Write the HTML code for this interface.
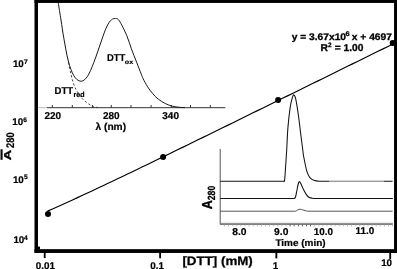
<!DOCTYPE html>
<html><head><meta charset="utf-8"><title>DTT calibration</title>
<style>
html,body{margin:0;padding:0;background:#fff;}
svg{display:block;}
text{font-family:"Liberation Sans",sans-serif;font-weight:bold;fill:#000;text-rendering:geometricPrecision;}
</style></head><body>
<svg width="397" height="269" viewBox="0 0 397 269">
<rect width="397" height="269" fill="#fff"/>
<g stroke="#333" stroke-width="1" fill="none">
<line x1="38" y1="107.7" x2="47" y2="107.7" stroke="#bbb"/><line x1="47" y1="107.7" x2="225.4" y2="107.7"/>
<line x1="52.3" y1="105" x2="52.3" y2="107.7"/><line x1="72.3" y1="105" x2="72.3" y2="107.7"/><line x1="92.4" y1="105" x2="92.4" y2="107.7"/><line x1="111.3" y1="105" x2="111.3" y2="107.7"/><line x1="131.0" y1="105" x2="131.0" y2="107.7"/><line x1="151.1" y1="105" x2="151.1" y2="107.7"/><line x1="171.3" y1="105" x2="171.3" y2="107.7"/><line x1="190.5" y1="105" x2="190.5" y2="107.7"/><line x1="210.3" y1="105" x2="210.3" y2="107.7"/>
</g>
<path d="M58.30,3.10 C58.75,5.92 60.07,14.10 61.00,20.00 C61.93,25.90 62.68,31.67 63.90,38.50 C65.12,45.33 66.65,54.80 68.30,61.00 C69.95,67.20 71.77,72.33 73.80,75.70 C75.83,79.07 78.27,81.02 80.50,81.20 C82.73,81.38 84.97,79.95 87.20,76.80 C89.43,73.65 91.48,68.43 93.90,62.30 C96.32,56.17 99.68,45.67 101.70,40.00 C103.72,34.33 104.55,31.50 106.00,28.30 C107.45,25.10 108.92,22.43 110.40,20.80 C111.88,19.17 113.42,18.50 114.90,18.50 C116.38,18.50 117.32,17.93 119.30,20.80 C121.28,23.67 124.78,31.03 126.80,35.70 C128.82,40.37 129.77,44.38 131.40,48.80 C133.03,53.22 134.95,57.97 136.60,62.20 C138.25,66.43 140.20,71.43 141.30,74.20 C142.40,76.97 142.15,76.70 143.20,78.80 C144.25,80.90 145.98,84.30 147.60,86.80 C149.22,89.30 151.13,91.75 152.90,93.80 C154.67,95.85 156.13,97.48 158.20,99.10 C160.27,100.72 162.95,102.32 165.30,103.50 C167.65,104.68 169.95,105.57 172.30,106.20 C174.65,106.83 177.28,107.07 179.40,107.30 C181.52,107.53 184.07,107.55 185.00,107.60" fill="none" stroke="#111" stroke-width="0.98"/>
<path d="M68.30,62.50 C68.78,64.58 70.32,71.42 71.20,75.00 C72.08,78.58 72.72,81.45 73.60,84.00 C74.48,86.55 75.52,88.47 76.50,90.30 C77.48,92.13 78.60,93.67 79.50,95.00 C80.40,96.33 80.82,97.13 81.90,98.30 C82.98,99.47 84.25,100.67 86.00,102.00 C87.75,103.33 90.40,105.38 92.40,106.30 C94.40,107.22 97.07,107.30 98.00,107.50" fill="none" stroke="#222" stroke-width="0.85" stroke-dasharray="2.2,2.1"/>
<g stroke="#555" stroke-width="1" fill="none">
<line x1="220.2" y1="149" x2="220.2" y2="224.5"/>
<line x1="220.2" y1="223.3" x2="392.8" y2="223.3" stroke="#999" stroke-width="0.9"/><line x1="220.2" y1="224.2" x2="392.8" y2="224.2" stroke="#444" stroke-width="1"/>
</g>
<g stroke-width="1"><line x1="224.5" y1="224.7" x2="224.5" y2="226.3" stroke="#bbb"/><line x1="228.6" y1="224.7" x2="228.6" y2="226.3" stroke="#bbb"/><line x1="232.7" y1="224.7" x2="232.7" y2="226.3" stroke="#bbb"/><line x1="236.8" y1="224.7" x2="236.8" y2="226.3" stroke="#bbb"/><line x1="240.9" y1="224.7" x2="240.9" y2="226.3" stroke="#bbb"/><line x1="245.0" y1="224.7" x2="245.0" y2="226.3" stroke="#bbb"/><line x1="249.1" y1="224.7" x2="249.1" y2="226.3" stroke="#bbb"/><line x1="253.2" y1="224.7" x2="253.2" y2="226.3" stroke="#bbb"/><line x1="257.3" y1="224.7" x2="257.3" y2="226.3" stroke="#bbb"/><line x1="261.4" y1="224.7" x2="261.4" y2="226.3" stroke="#bbb"/><line x1="265.5" y1="224.7" x2="265.5" y2="226.3" stroke="#bbb"/><line x1="269.6" y1="224.7" x2="269.6" y2="226.3" stroke="#bbb"/><line x1="273.7" y1="224.7" x2="273.7" y2="226.3" stroke="#bbb"/><line x1="277.8" y1="224.7" x2="277.8" y2="226.3" stroke="#bbb"/><line x1="281.9" y1="224.7" x2="281.9" y2="226.3" stroke="#bbb"/><line x1="286.0" y1="224.7" x2="286.0" y2="226.3" stroke="#bbb"/><line x1="290.1" y1="224.7" x2="290.1" y2="226.3" stroke="#555"/><line x1="294.2" y1="224.7" x2="294.2" y2="226.3" stroke="#555"/><line x1="298.3" y1="224.7" x2="298.3" y2="226.3" stroke="#555"/><line x1="302.4" y1="224.7" x2="302.4" y2="226.3" stroke="#555"/><line x1="306.5" y1="224.7" x2="306.5" y2="226.3" stroke="#555"/><line x1="310.6" y1="224.7" x2="310.6" y2="226.3" stroke="#555"/><line x1="314.7" y1="224.7" x2="314.7" y2="226.3" stroke="#bbb"/><line x1="318.8" y1="224.7" x2="318.8" y2="226.3" stroke="#bbb"/><line x1="322.9" y1="224.7" x2="322.9" y2="226.3" stroke="#bbb"/><line x1="327.0" y1="224.7" x2="327.0" y2="226.3" stroke="#bbb"/><line x1="331.1" y1="224.7" x2="331.1" y2="226.3" stroke="#bbb"/><line x1="335.2" y1="224.7" x2="335.2" y2="226.3" stroke="#bbb"/><line x1="339.3" y1="224.7" x2="339.3" y2="226.3" stroke="#bbb"/><line x1="343.4" y1="224.7" x2="343.4" y2="226.3" stroke="#bbb"/><line x1="347.5" y1="224.7" x2="347.5" y2="226.3" stroke="#bbb"/><line x1="351.6" y1="224.7" x2="351.6" y2="226.3" stroke="#bbb"/><line x1="355.7" y1="224.7" x2="355.7" y2="226.3" stroke="#bbb"/><line x1="359.8" y1="224.7" x2="359.8" y2="226.3" stroke="#bbb"/><line x1="363.9" y1="224.7" x2="363.9" y2="226.3" stroke="#bbb"/><line x1="368.0" y1="224.7" x2="368.0" y2="226.3" stroke="#bbb"/><line x1="372.1" y1="224.7" x2="372.1" y2="226.3" stroke="#bbb"/><line x1="376.2" y1="224.7" x2="376.2" y2="226.3" stroke="#bbb"/><line x1="380.3" y1="224.7" x2="380.3" y2="226.3" stroke="#bbb"/><line x1="384.4" y1="224.7" x2="384.4" y2="226.3" stroke="#bbb"/><line x1="388.5" y1="224.7" x2="388.5" y2="226.3" stroke="#bbb"/><line x1="392.6" y1="224.7" x2="392.6" y2="226.3" stroke="#bbb"/></g>
<path d="M220.20,181.30 L283.40,181.30 M283.40,181.30 C283.60,181.12 284.23,182.63 284.60,180.20 C284.97,177.77 285.25,171.73 285.60,166.70 C285.95,161.67 286.32,156.47 286.70,150.00 C287.08,143.53 287.33,134.93 287.90,127.90 C288.47,120.87 289.37,112.82 290.10,107.80 C290.83,102.78 291.67,99.95 292.30,97.80 C292.93,95.65 293.33,94.72 293.90,94.90 C294.47,95.08 294.97,95.63 295.70,98.90 C296.43,102.17 297.45,108.55 298.30,114.50 C299.15,120.45 300.05,128.68 300.80,134.60 C301.55,140.52 302.35,146.50 302.80,150.00 C303.25,153.50 302.83,152.07 303.50,155.60 C304.17,159.13 305.70,167.48 306.80,171.20 C307.90,174.92 308.80,176.33 310.10,177.90 C311.40,179.47 312.95,180.03 314.60,180.60 C316.25,181.17 319.10,181.18 320.00,181.30 L392.60,181.30" fill="none" stroke="#111" stroke-width="1.05"/><line x1="329" y1="181.3" x2="384" y2="181.3" stroke="#fff" stroke-opacity="0.45" stroke-width="2"/>
<path d="M220.20,198.50 L294.30,198.50 M294.30,198.50 C294.50,198.25 295.08,198.25 295.50,197.00 C295.92,195.75 296.35,193.17 296.80,191.00 C297.25,188.83 297.77,185.57 298.20,184.00 C298.63,182.43 298.97,181.68 299.40,181.60 C299.83,181.52 300.12,182.18 300.80,183.50 C301.48,184.82 302.32,187.33 303.50,189.50 C304.68,191.67 306.42,195.03 307.90,196.50 C309.38,197.97 311.05,197.97 312.40,198.30 C313.75,198.63 315.40,198.47 316.00,198.50 L392.80,198.50" fill="none" stroke="#111" stroke-width="1.1"/>
<path d="M220.20,211.20 L295.70,211.20 M295.70,211.20 C296.08,210.97 297.27,210.13 298.00,209.80 C298.73,209.47 299.27,209.17 300.10,209.20 C300.93,209.23 302.18,209.77 303.00,210.00 C303.82,210.23 304.18,210.40 305.00,210.60 C305.82,210.80 307.42,211.10 307.90,211.20 L392.60,211.20" fill="none" stroke="#444" stroke-width="0.9"/>
<path d="M47.50,211.11 L52.50,208.92 L57.50,206.70 L62.50,204.46 L67.50,202.20 L72.50,199.92 L77.50,197.63 L82.50,195.32 L87.50,193.00 L92.50,190.67 L97.50,188.32 L102.50,185.97 L107.50,183.60 L112.50,181.22 L117.50,178.84 L122.50,176.45 L127.50,174.05 L132.50,171.65 L137.50,169.24 L142.50,166.83 L147.50,164.41 L152.50,161.99 L157.50,159.56 L162.50,157.13 L167.50,154.70 L172.50,152.27 L177.50,149.83 L182.50,147.39 L187.50,144.95 L192.50,142.50 L197.50,140.06 L202.50,137.61 L207.50,135.16 L212.50,132.71 L217.50,130.26 L222.50,127.81 L227.50,125.36 L232.50,122.90 L237.50,120.45 L242.50,117.99 L247.50,115.54 L252.50,113.08 L257.50,110.62 L262.50,108.17 L267.50,105.71 L272.50,103.25 L277.50,100.79 L282.50,98.33 L287.50,95.87 L292.50,93.41 L297.50,90.95 L302.50,88.49 L307.50,86.03 L312.50,83.57 L317.50,81.11 L322.50,78.65 L327.50,76.19 L332.50,73.73 L337.50,71.27 L342.50,68.81 L347.50,66.35 L352.50,63.89 L357.50,61.42 L362.50,58.96 L367.50,56.50 L372.50,54.04 L377.50,51.58 L382.50,49.12 L387.50,46.66 L392.50,44.19 L393.00,43.95" fill="none" stroke="#000" stroke-width="1.15"/>
<g fill="#000">
<circle cx="48" cy="213.9" r="3"/>
<circle cx="163.1" cy="157" r="3"/>
<circle cx="278.1" cy="100.1" r="3"/>
<circle cx="392.7" cy="43" r="3"/>
</g>
<g fill="#000">
<rect x="34.5" y="0" width="3.5" height="252.8"/>
<rect x="34.5" y="0" width="362.5" height="2.95"/>
<rect x="394.05" y="0" width="2.95" height="252.8"/>
<rect x="34.5" y="249.15" width="362.5" height="3.8"/>
<rect x="38" y="246.6" width="2" height="3"/>
<rect x="43.8" y="252.5" width="1.8" height="5.6"/>
<rect x="159.2" y="252.5" width="1.8" height="5.8"/>
<rect x="275.4" y="252.5" width="1.9" height="5.9"/>
<rect x="389.3" y="252.5" width="1.8" height="6.5"/>
<rect x="0.5" y="149.3" width="2.1" height="10.5"/>
</g>
<text transform="translate(107.00,61.10) scale(0.940,1)" font-size="10.00" stroke="#000" stroke-width="0.20">DTT</text>
<text transform="translate(124.80,63.60) scale(1.150,1)" font-size="6.20" stroke="#000" stroke-width="0.20">ox</text>
<text transform="translate(54.60,93.80) scale(0.955,1)" font-size="10.00" stroke="#000" stroke-width="0.20">DTT</text>
<text transform="translate(73.50,96.70) scale(0.930,1)" font-size="7.60" stroke="#000" stroke-width="0.20">red</text>
<text transform="translate(52.80,119.30)" font-size="10.00" stroke="#000" stroke-width="0.20" text-anchor="middle">220</text>
<text transform="translate(111.30,119.30)" font-size="10.00" stroke="#000" stroke-width="0.20" text-anchor="middle">280</text>
<text transform="translate(170.60,119.30)" font-size="10.00" stroke="#000" stroke-width="0.20" text-anchor="middle">340</text>
<text transform="translate(95.50,130.00)" font-size="10.20" stroke="#000" stroke-width="0.20">λ (nm)</text>
<text transform="translate(239.40,235.00) scale(1.040,1)" font-size="9.90" stroke="#000" stroke-width="0.20" text-anchor="middle">8.0</text>
<text transform="translate(281.20,235.00) scale(1.040,1)" font-size="9.90" stroke="#000" stroke-width="0.20" text-anchor="middle">9.0</text>
<text transform="translate(323.40,235.00)" font-size="9.90" stroke="#000" stroke-width="0.20" text-anchor="middle">10.0</text>
<text transform="translate(364.80,233.50)" font-size="9.90" stroke="#000" stroke-width="0.20" text-anchor="middle">11.0</text>
<text transform="translate(300.50,245.60) scale(1.050,1)" font-size="9.50" stroke="#000" stroke-width="0.20" text-anchor="middle">Time (min)</text>
<text transform="translate(212.30,209.30) rotate(-90) scale(0.880,1)" font-size="14.40" stroke="#000" stroke-width="0.35">A</text>
<text transform="translate(214.90,200.30) rotate(-90) scale(0.830,1)" font-size="10.50" stroke="#000" stroke-width="0.20">280</text>
<text transform="translate(291.70,39.50) scale(1.067,1)" font-size="9.60" stroke="#000" stroke-width="0.30">y = 3.67x10</text>
<text transform="translate(345.40,36.20) scale(1.100,1)" font-size="6.80" stroke="#000" stroke-width="0.25">6</text>
<text transform="translate(351.80,39.50) scale(1.067,1)" font-size="9.60" stroke="#000" stroke-width="0.30">x + 4697</text>
<text transform="translate(320.60,50.95) scale(1.030,1)" font-size="10.00" stroke="#000" stroke-width="0.30">R</text>
<text transform="translate(328.00,47.40)" font-size="6.40" stroke="#000" stroke-width="0.25">2</text>
<text transform="translate(334.70,50.95) scale(1.020,1)" font-size="10.00" stroke="#000" stroke-width="0.30">= 1.00</text>
<text transform="translate(12.90,66.90)" font-size="9.80" stroke="#000" stroke-width="0.20">10</text>
<text transform="translate(24.10,63.60)" font-size="6.60" stroke="#000" stroke-width="0.20">7</text>
<text transform="translate(12.30,125.20)" font-size="9.80" stroke="#000" stroke-width="0.20">10</text>
<text transform="translate(23.30,121.90)" font-size="6.60" stroke="#000" stroke-width="0.20">6</text>
<text transform="translate(12.90,182.50)" font-size="9.80" stroke="#000" stroke-width="0.20">10</text>
<text transform="translate(23.90,179.30)" font-size="6.60" stroke="#000" stroke-width="0.20">5</text>
<text transform="translate(13.40,243.30)" font-size="9.80" stroke="#000" stroke-width="0.20">10</text>
<text transform="translate(24.10,239.60)" font-size="6.60" stroke="#000" stroke-width="0.20">4</text>
<text transform="translate(45.40,268.60) scale(1.020,1)" font-size="9.70" stroke="#000" stroke-width="0.20" text-anchor="middle">0.01</text>
<text transform="translate(157.20,268.80) scale(1.020,1)" font-size="9.70" stroke="#000" stroke-width="0.20" text-anchor="middle">0.1</text>
<text transform="translate(275.40,268.70) scale(1.020,1)" font-size="9.70" stroke="#000" stroke-width="0.20" text-anchor="middle">1</text>
<text transform="translate(386.60,266.30)" font-size="9.80" stroke="#000" stroke-width="0.20" text-anchor="middle">10</text>
<text transform="translate(182.40,264.70) scale(1.095,1)" font-size="12.20" stroke="#000" stroke-width="0.25">[DTT] (mM)</text>
<text transform="translate(10.95,160.20) rotate(-90) scale(1.450,1)" font-size="10.00" stroke="#000" stroke-width="0.30">A</text>
<text transform="translate(14.10,148.00) rotate(-90) scale(0.850,1)" font-size="11.00" stroke="#000" stroke-width="0.20">280</text>
</svg>
</body></html>
